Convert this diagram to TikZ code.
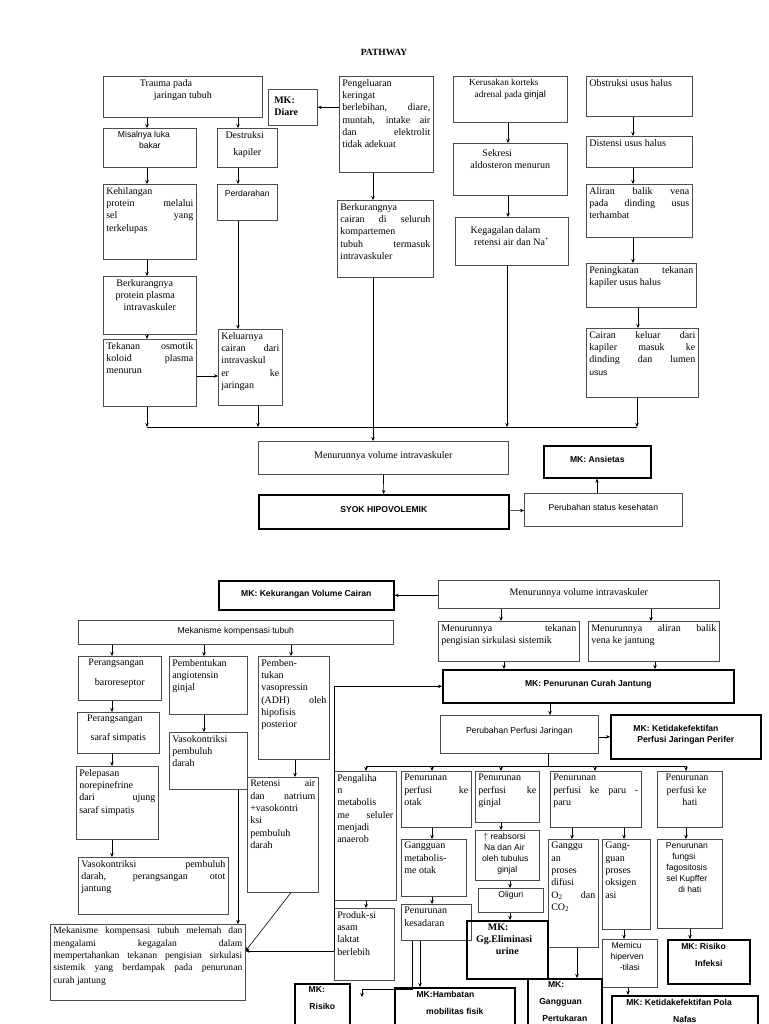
\documentclass[tikz,border=0pt]{standalone}
\usepackage{fontspec}
\setmainfont{Liberation Serif}
\newfontfamily\sfa{Liberation Sans}
\usetikzlibrary{arrows.meta}
\newcommand\bx[8]{\node[#6] (#1) at (#2,#3) {\parbox[t][\dimexpr#5pt-#3pt\relax][t]{\dimexpr#4pt-#2pt\relax}{\hyphenpenalty=10000\hfuzz=20pt\vspace{3pt}#7#8\par\vspace*{0pt plus 1fil}}};}
\newcommand\myJ{\leftskip3pt\rightskip3pt\parfillskip=0pt plus 1fil\relax}
\newcommand\myC{\leftskip3pt plus 1fil\rightskip3pt plus 1fil\parfillskip=0pt\relax}
\newcommand\myL{\leftskip3pt\rightskip3pt plus 1fil\relax}
\newcommand\myV{\vspace*{0pt plus 1fil}}
\newcommand\mySF{\sfa\fontsize{8.6}{11}\selectfont}
\begin{document}
\begin{tikzpicture}[x=1pt,y=-1pt,
  b/.style={draw=black!70,line width=0.6pt,inner sep=0pt,anchor=north west,font=\fontsize{10}{12.3}\selectfont},
  s/.style={b,font=\mySF},
  t/.style={draw=black,line width=1.6pt,inner sep=0pt,anchor=north west,font=\sfa\bfseries\fontsize{8.6}{11}\selectfont},
  tr/.style={t,font=\bfseries\fontsize{10}{12.3}\selectfont},
  arr/.style={-{Stealth[length=4pt,width=3.5pt]},line width=0.6pt},
  ln/.style={line width=0.6pt}]
\useasboundingbox (0,0) rectangle (768,1024);
\clip (0,0) rectangle (768,1024);
\node[font=\bfseries\fontsize{9.5}{11}\selectfont] (title) at (384,52) {PATHWAY};
% ---------- top part ----------
\bx{trauma}{103}{76}{262}{117}{b}{\myC}{Trauma pada\\jaringan tubuh}
\bx{diare}{268}{89}{317}{125}{b}{\myL\myV\leftskip6pt\bfseries}{MK:\\Diare}
\bx{peng}{339}{76}{433}{172}{b}{\myJ}{Pengeluaran\\keringat\\berlebihan, diare,\linebreak muntah, intake air\linebreak dan elektrolit\linebreak tidak adekuat}
\bx{misal}{103}{128}{196}{167}{s}{\myC}{Misalnya luka\\bakar}
\bx{destr}{217}{128}{277}{167}{b}{\myC}{Destruksi\\[5pt]kapiler}
\bx{kehil}{103}{184}{196}{259}{b}{\myJ}{Kehilangan\\protein melalui\linebreak sel yang\linebreak terkelupas}
\bx{perd}{217}{184}{277}{220}{s}{\vspace{3pt}\myC}{Perdarahan}
\bx{berkc}{337}{200}{433}{277}{b}{\myJ}{Berkurangnya\\cairan di seluruh\linebreak kompartemen\\tubuh termasuk\linebreak intravaskuler}
\bx{berkp}{103}{276}{196}{334}{b}{\myC}{Berkurangnya\\protein plasma\\intravaskuler}
\bx{tekan}{103}{339}{196}{406}{b}{\myJ}{Tekanan osmotik\linebreak koloid plasma\linebreak menurun}
\bx{kelu}{218}{329}{282}{405}{b}{\myJ}{Keluarnya\\cairan dari\linebreak intravaskul\\er ke\linebreak jaringan}
\bx{kerus}{453}{76}{567}{122}{b}{\myC\fontsize{9.3}{11.5}\selectfont}{Kerusakan korteks\\adrenal pada {\sfa ginjal}}
\bx{sekr}{453}{143}{567}{195}{b}{\myC\vspace{3pt}}{Sekresi\\aldosteron menurun}
\bx{kegag}{455}{217}{568}{265}{b}{\myC\vspace{6pt}}{Kegagalan dalam\\retensi air dan Na\textsuperscript{+}}
\bx{obst}{586}{76}{692}{116}{b}{\myL}{Obstruksi usus halus}
\bx{dist}{586}{136}{692}{167}{b}{\myL}{Distensi usus halus}
\bx{alir}{586}{184}{692}{237}{b}{\myJ}{Aliran balik vena\linebreak pada dinding usus\linebreak terhambat}
\bx{pening}{586}{263}{696}{307}{b}{\myJ}{Peningkatan tekanan\linebreak kapiler usus halus}
\bx{cair}{586}{328}{698}{397}{b}{\myJ}{Cairan keluar dari\linebreak kapiler masuk ke\linebreak dinding dan lumen\linebreak {\mySF usus}}
\bx{menvol}{258}{441}{508}{474}{b}{\myV\myC}{Menurunnya volume intravaskuler}
\bx{syok}{258}{494}{508}{528}{t}{\myV\myC}{SYOK HIPOVOLEMIK}
\bx{pstat}{524}{493}{682}{526}{s}{\myV\myC}{Perubahan status kesehatan}
\bx{ansi}{543}{445}{650}{477}{t}{\myV\myC}{MK: Ansietas}
\draw[arr] (147,0 |- trauma.south) -- (147,0 |- misal.north);
\draw[arr] (238,0 |- trauma.south) -- (238,0 |- destr.north);
\draw[arr] (peng.west |- diare.east) -- (diare.east);
\draw[arr] (147,0 |- misal.south) -- (147,0 |- kehil.north);
\draw[arr] (147,0 |- kehil.south) -- (147,0 |- berkp.north);
\draw[arr] (147,0 |- berkp.south) -- (147,0 |- tekan.north);
\draw[arr] (238,0 |- destr.south) -- (238,0 |- perd.north);
\draw[arr] (238,0 |- perd.south) -- (238,0 |- kelu.north);
\draw[arr] (tekan.east |- 0,376) -- (kelu.west |- 0,376);
\draw[arr] (373,0 |- peng.south) -- (373,0 |- berkc.north);
\draw[arr] (508,0 |- kerus.south) -- (508,0 |- sekr.north);
\draw[arr] (508,0 |- sekr.south) -- (508,0 |- kegag.north);
\draw[arr] (633,0 |- obst.south) -- (633,0 |- dist.north);
\draw[arr] (633,0 |- dist.south) -- (633,0 |- alir.north);
\draw[arr] (633,0 |- alir.south) -- (633,0 |- pening.north);
\draw[arr] (638,0 |- pening.south) -- (638,0 |- cair.north);
\coordinate (mL) at (147,427);
\coordinate (mR) at (637,427);
\draw[ln] (mL) -- (mR);
\draw[arr] (147,0 |- tekan.south) -- (mL);
\draw[arr] (258,0 |- kelu.south) -- (258,427);
\draw[arr] (507,0 |- kegag.south) -- (507,427);
\draw[arr] (637,0 |- cair.south) -- (mR);
\draw[arr] (373,0 |- berkc.south) -- (373,0 |- menvol.north);
\draw[arr] (menvol) -- (syok);
\draw[arr] (syok) -- (pstat);
\draw[arr] (597,0 |- pstat.north) -- (597,0 |- ansi.south);
% ---------- bottom part ----------
\bx{kek}{218}{580}{393}{609}{t}{\myV\myC}{MK: Kekurangan Volume Cairan}
\bx{menvol2}{438}{580}{719}{608}{b}{\myV\myC}{Menurunnya volume intravaskuler}
\bx{mek}{78}{620}{393}{644}{s}{\myV\myC}{Mekanisme kompensasi tubuh}
\bx{mt}{438}{621}{579}{661}{b}{\myJ}{Menurunnya tekanan\linebreak pengisian sirkulasi sistemik}
\bx{ma}{588}{621}{719}{661}{b}{\myJ}{Menurunnya aliran balik\linebreak vena ke jantung}
\bx{cj}{442}{669}{733}{702}{t}{\myV\myC}{MK: Penurunan Curah Jantung}
\bx{pp}{440}{715}{598}{753}{s}{\myV\myC}{Perubahan Perfusi Jaringan}
\bx{kp}{610}{714}{760}{758}{t}{\myV\myC}{MK: Ketidakefektifan\\Perfusi Jaringan Perifer}
\bx{baro}{78}{656}{161}{700}{b}{\myC}{Perangsangan\\[7pt]baroreseptor}
\bx{angio}{169}{656}{247}{714}{b}{\myL}{Pembentukan\\angiotensin\\ginjal}
\bx{vaso}{258}{656}{329}{759}{b}{\myJ}{Pemben-\\tukan\\vasopressin\linebreak (ADH) oleh\linebreak hipofisis\\posterior}
\bx{saraf}{77}{712}{159}{753}{b}{\myC}{Perangsangan\\[6pt]saraf simpatis}
\bx{vka}{169}{732}{247}{789}{b}{\myL}{Vasokontriksi\\pembuluh\\darah}
\bx{pel}{76}{766}{158}{839}{b}{\myJ}{Pelepasan\\norepinefrine\\dari ujung\linebreak saraf simpatis}
\bx{ret}{247}{777}{318}{892}{b}{\myJ}{Retensi air\linebreak dan natrium\linebreak +vasokontri\\ksi\\pembuluh\\darah}
\bx{vkb}{78}{857}{228}{914}{b}{\myJ}{Vasokontriksi pembuluh\linebreak darah, perangsangan otot\linebreak jantung}
\bx{mel}{50}{924}{245}{1000}{b}{\myJ\fontsize{9.6}{12.3}\selectfont}{Mekanisme kompensasi tubuh melemah dan\linebreak mengalami kegagalan dalam\linebreak mempertahankan tekanan pengisian sirkulasi\linebreak sistemik yang berdampak pada penurunan\linebreak curah jantung}
\bx{pgl}{334}{771}{396}{900}{b}{\myJ}{Pengaliha\\n\\metabolis\\me seluler\linebreak menjadi\\anaerob}
\bx{pot}{401}{771}{471}{827}{b}{\myJ}{Penurunan\\perfusi ke\linebreak otak}
\bx{pgj}{475}{771}{539}{822}{b}{\myJ}{Penurunan\\perfusi ke\linebreak ginjal}
\bx{ppr}{550}{771}{641}{827}{b}{\myJ}{Penurunan\\perfusi ke paru -\linebreak paru}
\bx{pht}{657}{771}{722}{827}{b}{\myC}{Penurunan\\perfusi ke\\hati}
\bx{gmo}{401}{839}{466}{896}{b}{\myL}{Gangguan\\metabolis-\\me otak}
\bx{reab}{475}{830}{539}{880}{s}{\myC}{$\uparrow$ reabsorsi\\Na dan Air\\oleh tubulus\\ginjal}
\bx{olig}{478}{888}{543}{912}{s}{\myC}{Oliguri}
\bx{dif}{548}{839}{598}{947}{b}{\myJ}{Ganggu\\an\\proses\\difusi\\O\textsubscript{2} dan\linebreak CO\textsubscript{2}}
\bx{oks}{602}{839}{650}{929}{b}{\myL}{Gang-\\guan\\proses\\oksigen\\asi}
\bx{fag}{657}{839}{722}{928}{s}{\myC}{Penurunan\\fungsi\\fagositosis\\sel Kupffer\\di hati}
\bx{prod}{334}{908}{394}{980}{b}{\myL}{Produk-si\\asam\\laktat\\berlebih}
\bx{kes}{401}{904}{471}{940}{b}{\myL}{Penurunan\\kesadaran}
\bx{elim}{466}{920}{547}{978}{tr}{\myC}{MK:\\Gg.Eliminasi\\urine}
\bx{mem}{602}{939}{657}{987}{s}{\myC}{Memicu\\hiperven\\-tilasi}
\bx{rinf}{667}{939}{749}{983}{t}{\myC}{MK: Risiko\\[6pt]Infeksi}
\bx{risk}{294}{983}{349}{1050}{t}{\myC}{MK:\\[6pt]Risiko}
\bx{hamb}{394}{987}{514}{1050}{t}{\myC}{MK:Hambatan\\[6pt]mobilitas fisik}
\bx{gpt}{527}{978}{601}{1050}{t}{\myC}{MK:\\[6pt]Gangguan\\[6pt]Pertukaran}
\bx{pola}{611}{995}{757}{1050}{t}{\myC}{MK: Ketidakefektifan Pola\\[6pt]Nafas}
\draw[arr] (menvol2.west |- kek.east) -- (kek.east);
\draw[arr] (501,0 |- menvol2.south) -- (501,0 |- mt.north);
\draw[arr] (651,0 |- menvol2.south) -- (651,0 |- ma.north);
\draw[arr] (504,0 |- mt.south) -- (504,0 |- cj.north);
\draw[arr] (655,0 |- ma.south) -- (655,0 |- cj.north);
\draw[arr] (550,0 |- cj.south) -- (550,0 |- pp.north);
\draw[arr] (pp.east |- kp.west) -- (kp.west);
\draw[arr] (112,0 |- mek.south) -- (112,0 |- baro.north);
\draw[arr] (204,0 |- mek.south) -- (204,0 |- angio.north);
\draw[arr] (291,0 |- mek.south) -- (291,0 |- vaso.north);
\draw[arr] (112,0 |- baro.south) -- (112,0 |- saraf.north);
\draw[arr] (112,0 |- saraf.south) -- (112,0 |- pel.north);
\draw[arr] (112,0 |- pel.south) -- (112,0 |- vkb.north);
\draw[arr] (204,0 |- angio.south) -- (204,0 |- vka.north);
\draw[arr] (295,0 |- vaso.south) -- (295,0 |- ret.north);
\draw[arr] (238,0 |- vka.south) -- (238,0 |- mel.north);
\coordinate (jn) at (334,951);
\draw[arr] (291,0 |- ret.south) -- (mel.east |- jn);
\draw[arr] (jn) -- (mel.east |- jn);
\draw[arr] (jn) -- (334,0 |- cj.west) -- (cj.west);
% branches
\coordinate (bL) at (366,766);
\coordinate (bR) at (686,766);
\draw[ln] (548,0 |- pp.south) -- (548,766);
\draw[ln] (bL) -- (bR);
\draw[arr] (bL) -- (366,0 |- pgl.north);
\draw[arr] (432,766) -- (432,0 |- pot.north);
\draw[arr] (501,766) -- (501,0 |- pgj.north);
\draw[arr] (595,766) -- (595,0 |- ppr.north);
\draw[arr] (bR) -- (686,0 |- pht.north);
\draw[arr] (366,0 |- pgl.south) -- (366,0 |- prod.north);
\draw[arr] (432,0 |- pot.south) -- (432,0 |- gmo.north);
\draw[arr] (432,0 |- gmo.south) -- (432,0 |- kes.north);
\draw[arr] (501,0 |- pgj.south) -- (501,0 |- reab.north);
\draw[arr] (510,0 |- reab.south) -- (510,0 |- olig.north);
\draw[arr] (510,0 |- olig.south) -- (510,0 |- elim.north);
\draw[arr] (572,0 |- ppr.south) -- (572,0 |- dif.north);
\draw[arr] (624,0 |- ppr.south) -- (624,0 |- oks.north);
\draw[arr] (624,0 |- oks.south) -- (624,0 |- mem.north);
\draw[arr] (686,0 |- pht.south) -- (686,0 |- fag.north);
\draw[arr] (690,0 |- fag.south) -- (690,0 |- rinf.north);
\draw[arr] (577,0 |- dif.south) -- (577,0 |- gpt.north);
\draw[arr] (628,0 |- mem.south) -- (628,0 |- pola.north);
\coordinate (kc) at (362,989);
\draw[arr] (412,0 |- kes.south) -- (412,989) -- (kc) -- (362,997);
\draw[arr] (420,0 |- kes.south) -- (420,0 |- hamb.north);
\end{tikzpicture}
\end{document}
